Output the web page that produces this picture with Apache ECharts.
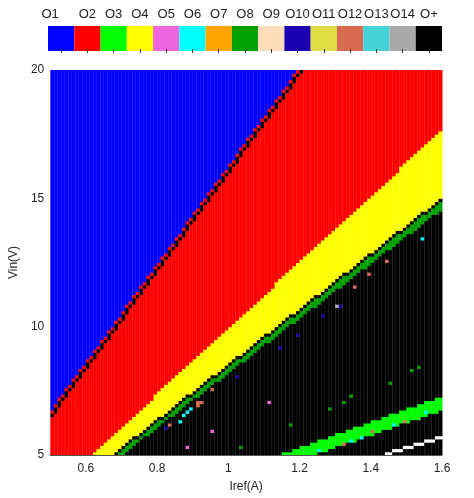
<!DOCTYPE html>
<html><head><meta charset="utf-8">
<script src="https://cdn.jsdelivr.net/npm/echarts@6/dist/echarts.min.js"></script>
<style>html,body{margin:0;padding:0;background:#fff}#c{width:474px;height:498px}</style>
</head><body><div id="c"></div>
<script>
// ---- legend classes ----
const classNames = ['O1','O2','O3','O4','O5','O6','O7','O8','O9','O10','O11','O12','O13','O14','O+'];
const classColors = ['#0000FF','#FF0000','#00FF00','#FFFF00','#EE66DD','#00FFFF','#FFA500','#00A000',
  '#FFDDBB','#1A00B0','#DEDE44','#D86A50','#44D4D8','#AAAAAA','#000000','#FFFFFF'];
// ---- axes ----
const xMin = 0.5, xMax = 1.6, xStep = 0.01;
const yMin = 5, yMax = 20, yStep = 0.125;
const yTicks = [5, 10, 15, 20];
// ---- region boundaries: [Iref, Vin] ----
const edgeO1 = [[0.5, 6.71], [0.89, 14.16], [1.2, 20.1]];   // blue above this
const edgeO2O4 = [[0.615, 5.0], [1.6, 17.67]];              // red above, yellow below
const edgeO4O8 = [[0.671, 5.0], [1.6, 15.04]];              // yellow above, green below
const bandO8Width = [[0.67, 0.3], [1.6, 0.45]];
const edgeO3Top = [[1.14, 5.0], [1.6, 7.3]];
const edgeO3Bottom = [[1.24, 5.0], [1.6, 6.75]];
const edgeBlank = [[1.44, 5.05], [1.6, 5.72]];
// ---- isolated cells: [Iref, Vin] per class ----
const dotsO5 = [[1.114, 7.11], [0.960, 5.89], [0.883, 5.31]];
const dotsO6 = [[0.895, 6.79], [0.881, 6.63], [0.871, 6.50], [0.862, 6.37], [1.543, 13.41],
  [1.468, 6.21], [1.379, 5.74], [1.342, 5.58], [1.258, 5.16], [1.552, 6.63]];
const dotsO8 = [[1.532, 8.46], [1.510, 8.31], [1.454, 7.86], [1.344, 7.25], [1.324, 7.11],
  [1.289, 6.78], [1.179, 6.18], [1.037, 5.31]];
const dotsO10 = [[1.312, 10.85], [1.268, 10.40], [1.190, 9.66], [1.149, 9.21], [1.025, 8.01], [0.827, 6.05]];
const dotsO12 = [[1.445, 12.51], [1.400, 12.05], [1.356, 11.60], [0.960, 7.53], [0.918, 7.12], [0.927, 7.12],
  [0.913, 6.95], [0.839, 6.21], [1.499, 6.33], [1.410, 5.89], [1.322, 5.43]];
const dotsO14 = [[1.302, 10.85]];

function lin(pts, x) {
  let a = pts[0], b = pts[1];
  for (let k = 1; k < pts.length - 1; k++) { if (x > pts[k][0]) { a = pts[k]; b = pts[k + 1]; } }
  return a[1] + (x - a[0]) * (b[1] - a[1]) / (b[0] - a[0]);
}
function classify(xc, yc) {
  const h = yStep;
  const a = lin(edgeO1, xc);
  if (yc > a) return 0;
  if (yc > a - h) return 1;
  if (yc > a - h - 0.19) return 14;
  if (yc > lin(edgeO2O4, xc)) return 1;
  const c = lin(edgeO4O8, xc);
  if (yc > c) return 3;
  if (yc > c - h) return 14;
  if (yc > c - lin(bandO8Width, xc)) return 7;
  const t = lin(edgeO3Top, xc), b = lin(edgeO3Bottom, xc);
  if (yc <= t && yc > b) return 2;
  if (xc >= edgeBlank[0][0]) {
    const e = lin(edgeBlank, xc);
    if (yc > e - h / 2 && yc <= e + h / 2) return 15;
  }
  return 14;
}
const nx = Math.round((xMax - xMin) / xStep), ny = Math.round((yMax - yMin) / yStep);
const grid = [];
for (let i = 0; i < nx; i++) {
  const col = [];
  for (let j = 0; j < ny; j++) col.push(classify(xMin + (i + 0.5) * xStep, yMin + (j + 0.5) * yStep));
  grid.push(col);
}
[[dotsO5, 4], [dotsO6, 5], [dotsO8, 7], [dotsO10, 9], [dotsO12, 11], [dotsO14, 13]].forEach(([list, k]) => {
  list.forEach(([x, y]) => {
    const i = Math.floor((x - xMin) / xStep), j = Math.floor((y - yMin) / yStep);
    if (i >= 0 && i < nx && j >= 0 && j < ny) grid[i][j] = k;
  });
});
// merge runs per column
const cells = [];
for (let i = 0; i < nx; i++) {
  let j0 = 0;
  for (let j = 1; j <= ny; j++) {
    if (j === ny || grid[i][j] !== grid[i][j0]) {
      cells.push([xMin + i * xStep, xMin + (i + 1) * xStep, yMin + j0 * yStep, yMin + j * yStep, grid[i][j0]]);
      j0 = j;
    }
  }
}

const chart = echarts.init(document.getElementById('c'), null, {renderer: 'canvas'});
const font = 'Liberation Sans, Arial, Helvetica, sans-serif';
chart.setOption({
  animation: false,
  textStyle: {fontFamily: font},
  grid: [
    {left: 49, right: 32, top: 70, bottom: 41},
    {left: 48, right: 32, top: 26, height: 25}
  ],
  xAxis: [
    {type: 'value', gridIndex: 0, min: xMin, max: xMax, interval: 0.1,
      axisLine: {show: true, lineStyle: {color: '#555', width: 1}}, axisTick: {show: false},
      splitLine: {show: false},
      axisLabel: {color: '#222', fontSize: 12, margin: 8, fontFamily: font,
        formatter: v => { const r = Math.round(v * 10); return r % 2 === 0 ? String(r / 10) : ''; }},
      name: 'Iref(A)', nameLocation: 'middle', nameGap: 26, nameTextStyle: {color: '#222', fontSize: 12, fontFamily: font}},
    {type: 'value', gridIndex: 0, min: xMin, max: xMax, interval: xStep, z: 10,
      axisLine: {show: false}, axisTick: {show: false}, axisLabel: {show: false},
      splitLine: {show: true, lineStyle: {color: 'rgba(255,255,255,0.08)', width: 1}}},
    {type: 'category', gridIndex: 1, position: 'top', data: classNames,
      axisLine: {show: false}, axisTick: {show: true, inside: true, alignWithLabel: true, interval: 0, length: 2, lineStyle: {color: '#333'}},
      axisLabel: {interval: 0, color: '#222', fontSize: 13, margin: 5, fontFamily: font,
        formatter: v => v === 'O1' ? '{a|O1}' : v,
        rich: {a: {fontSize: 13, color: '#222', padding: [0, 22, 0, 0], fontFamily: font}}}},
    {type: 'category', gridIndex: 1, position: 'bottom', data: classNames, z: 10,
      axisLine: {show: false}, axisTick: {show: true, inside: true, alignWithLabel: true, interval: 0, length: 2, lineStyle: {color: '#333'}},
      axisLabel: {show: false}}
  ],
  yAxis: [
    {type: 'value', gridIndex: 0, min: yMin, max: yMax, interval: 5,
      axisLine: {show: false}, axisTick: {show: false}, splitLine: {show: false},
      axisLabel: {color: '#222', fontSize: 12, margin: 6, fontFamily: font},
      name: 'Vin(V)', nameLocation: 'middle', nameGap: 30, nameTextStyle: {color: '#222', fontSize: 12, fontFamily: font}},
    {type: 'value', gridIndex: 1, min: 0, max: 1, show: false}
  ],
  series: [
    {type: 'custom', xAxisIndex: 0, yAxisIndex: 0, clip: true, data: cells,
      encode: {x: [0, 1], y: [2, 3]},
      renderItem: (params, api) => {
        const p0 = api.coord([api.value(0), api.value(3)]);
        const p1 = api.coord([api.value(1), api.value(2)]);
        return {type: 'rect', shape: {x: p0[0], y: p0[1], width: p1[0] - p0[0] + 0.5, height: p1[1] - p0[1] + 0.5},
          style: {fill: classColors[api.value(4)]}};
      }},
    {type: 'bar', xAxisIndex: 2, yAxisIndex: 1, barWidth: '100%', barCategoryGap: 0,
      data: classNames.map((n, k) => ({value: 1, itemStyle: {color: classColors[k]}}))}
  ]
});
</script></body></html>
